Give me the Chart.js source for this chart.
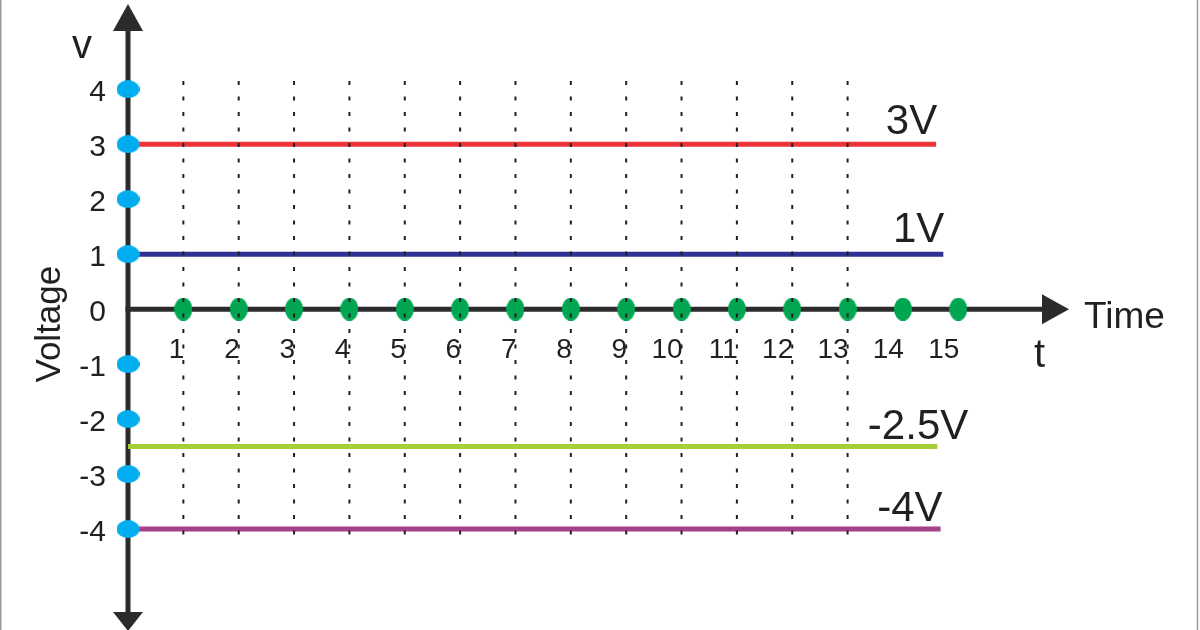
<!DOCTYPE html>
<html>
<head>
<meta charset="utf-8">
<title>Voltage vs Time</title>
<script src="https://cdn.jsdelivr.net/npm/chart.js@4.4.1/dist/chart.umd.min.js"></script>
<style>
    html, body { margin: 0; padding: 0; background: #ffffff; }
    #wrap { width: 1200px; height: 630px; }
</style>
</head>
<body>
<div id="wrap"><canvas id="voltChart" width="1200" height="630"></canvas></div>
<script>
// ========================================
// DATA
// ========================================
const yTickValues = [4, 3, 2, 1, 0, -1, -2, -3, -4];
const yDotValues = [4, 3, 2, 1, -1, -2, -3, -4];
const xTickValues = [1, 2, 3, 4, 5, 6, 7, 8, 9, 10, 11, 12, 13, 14, 15];
const gridTimes = [1, 2, 3, 4, 5, 6, 7, 8, 9, 10, 11, 12, 13];
const gridTop = 4.15;
const gridBottom = -4.15;

const levelNames = ['3V', '1V', '-2.5V', '-4V'];
const levelVolts = [3, 1, -2.5, -4];
const levelEnds = [14.6, 14.73, 14.62, 14.68];

// ========================================
// STYLE
// ========================================
const levelColors = ['#ed3338', '#2e3192', '#a6ce39', '#a4418b'];
const inkColor = '#231f20';
const axisColor = '#2b2b2b';
const fontFamily = '"Liberation Sans", Arial, Helvetica, sans-serif';

// ellipse markers as small canvases (used as point styles)
function ellipseDot(w, h, color) {
    const c = document.createElement('canvas');
    c.width = w;
    c.height = h;
    const g = c.getContext('2d');
    g.fillStyle = color;
    g.beginPath();
    g.ellipse(w / 2, h / 2, w / 2, h / 2, 0, 0, Math.PI * 2);
    g.fill();
    return c;
}
const blueDot = ellipseDot(23, 18, '#00aeef');
const greenDot = ellipseDot(18, 23, '#00a651');

// ========================================
// DATASETS
// ========================================
const datasets = [];

// level lines
levelVolts.forEach((v, i) => {
    datasets.push({
        data: [{ x: 0, y: v }, { x: levelEnds[i], y: v }],
        showLine: true,
        borderColor: levelColors[i],
        borderWidth: 5,
        borderCapStyle: 'butt',
        pointRadius: 0,
        clip: false,
        order: 3
    });
});

// dots on the axes
datasets.push({
    data: yDotValues.map(v => ({ x: 0, y: v })),
    showLine: false,
    pointStyle: blueDot,
    pointRadius: 10,
    clip: false,
    order: 2
});
datasets.push({
    data: xTickValues.map(t => ({ x: t, y: 0 })),
    showLine: false,
    pointStyle: greenDot,
    pointRadius: 10,
    clip: false,
    order: 2
});

// dotted time grid
gridTimes.forEach(t => {
    datasets.push({
        data: [{ x: t, y: gridTop }, { x: t, y: gridBottom }],
        showLine: true,
        borderColor: inkColor,
        borderWidth: 2,
        borderDash: [4, 11.5],
        pointRadius: 0,
        clip: false,
        order: 1
    });
});

// ========================================
// AXES + TEXT PLUGIN
// ========================================
const axesPlugin = {
    id: 'axesArrows',
    beforeDraw(chart) {
        const ctx = chart.ctx;
        ctx.save();
        ctx.fillStyle = '#ffffff';
        ctx.fillRect(0, 0, chart.width, chart.height);
        // frame edges
        ctx.strokeStyle = '#9a9a9a';
        ctx.lineWidth = 1.5;
        ctx.beginPath();
        ctx.moveTo(0.75, 0); ctx.lineTo(0.75, chart.height);
        ctx.moveTo(1197.5, 0); ctx.lineTo(1197.5, chart.height);
        ctx.stroke();
        ctx.restore();
    },
    beforeDatasetsDraw(chart) {
        const ctx = chart.ctx;
        const xs = chart.scales.x;
        const ys = chart.scales.y;
        const area = chart.chartArea;
        const x0 = xs.getPixelForValue(0);
        const y0 = ys.getPixelForValue(0);

        ctx.save();
        ctx.strokeStyle = axisColor;
        ctx.fillStyle = axisColor;
        ctx.lineWidth = 5;

        // vertical axis
        ctx.beginPath();
        ctx.moveTo(x0, area.top + 20);
        ctx.lineTo(x0, area.bottom - 10);
        ctx.stroke();
        // horizontal axis
        ctx.beginPath();
        ctx.moveTo(x0 - 2.5, y0);
        ctx.lineTo(area.right - 20, y0);
        ctx.stroke();

        // arrow heads
        ctx.beginPath();
        ctx.moveTo(x0, area.top);
        ctx.lineTo(x0 + 15, area.top + 27);
        ctx.lineTo(x0 - 15, area.top + 27);
        ctx.closePath();
        ctx.fill();

        ctx.beginPath();
        ctx.moveTo(x0, area.bottom + 3);
        ctx.lineTo(x0 + 15, area.bottom - 16);
        ctx.lineTo(x0 - 15, area.bottom - 16);
        ctx.closePath();
        ctx.fill();

        ctx.beginPath();
        ctx.moveTo(area.right, y0);
        ctx.lineTo(area.right - 27, y0 - 15);
        ctx.lineTo(area.right - 27, y0 + 15);
        ctx.closePath();
        ctx.fill();
        ctx.restore();
    },
    afterDraw(chart) {
        const ctx = chart.ctx;
        const xs = chart.scales.x;
        const ys = chart.scales.y;
        const area = chart.chartArea;
        const x0 = xs.getPixelForValue(0);
        const y0 = ys.getPixelForValue(0);

        ctx.save();
        ctx.fillStyle = inkColor;

        // y tick labels
        ctx.font = '30px ' + fontFamily;
        ctx.textAlign = 'right';
        ctx.textBaseline = 'middle';
        yTickValues.forEach(v => {
            ctx.fillText(String(v), x0 - 22, ys.getPixelForValue(v) + 4);
        });

        // x tick labels
        ctx.font = '28px ' + fontFamily;
        ctx.textAlign = 'right';
        ctx.textBaseline = 'alphabetic';
        xTickValues.forEach(t => {
            ctx.fillText(String(t), xs.getPixelForValue(t) + 1, y0 + 49);
        });

        // level labels
        const labelDx = [1, 1, 31, 2];
        const labelDy = [-10, -12, -8, -8];
        ctx.font = '42px ' + fontFamily;
        levelNames.forEach((name, i) => {
            const px = xs.getPixelForValue(levelEnds[i]) + labelDx[i];
            const py = ys.getPixelForValue(levelVolts[i]) + labelDy[i];
            ctx.fillText(name, px, py);
        });

        // axis names
        ctx.textAlign = 'left';
        ctx.font = '37px ' + fontFamily;
        ctx.fillText('Time', area.right + 15, y0 + 19);
        ctx.font = '40px ' + fontFamily;
        ctx.fillText('t', area.right - 35, y0 + 58);
        ctx.fillText('v', x0 - 56, 58);

        ctx.save();
        ctx.translate(x0 - 68, y0 + 15);
        ctx.rotate(-Math.PI / 2);
        ctx.textAlign = 'center';
        ctx.font = '35px ' + fontFamily;
        ctx.fillText('Voltage', 0, 0);
        ctx.restore();

        ctx.restore();
    }
};

// ========================================
// CHART
// ========================================
document.addEventListener('DOMContentLoaded', function() {
    const ctx = document.getElementById('voltChart').getContext('2d');
    new Chart(ctx, {
        type: 'scatter',
        data: { datasets: datasets },
        options: {
            responsive: false,
            animation: false,
            devicePixelRatio: 1,
            layout: {
                autoPadding: false,
                padding: { left: 128, right: 131, top: 4, bottom: 2 }
            },
            plugins: {
                legend: { display: false },
                tooltip: { enabled: false }
            },
            scales: {
                x: { type: 'linear', min: 0, max: 17, display: false },
                y: { type: 'linear', min: -5.8, max: 5.55, display: false }
            }
        },
        plugins: [axesPlugin]
    });
});
</script>
</body>
</html>
